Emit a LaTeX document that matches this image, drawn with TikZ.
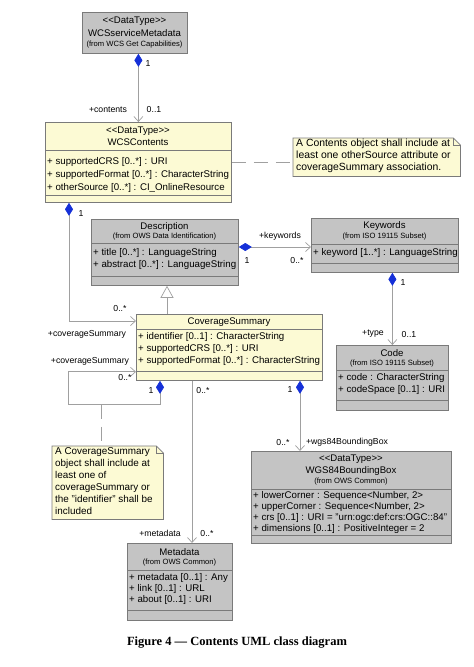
\documentclass[tikz,border=0pt]{standalone}
\usepackage{fontspec}
\setmainfont{Liberation Sans}
\newfontfamily\capfont{Liberation Serif}
\usetikzlibrary{arrows.meta,calc}
\definecolor{boxgray}{HTML}{C4C4C4}
\definecolor{boxyel}{HTML}{FCFAD4}
\definecolor{edgecol}{HTML}{7A7A7A}
\definecolor{conncol}{HTML}{A0A0A0}
\definecolor{diacol}{HTML}{1530D8}
\begin{document}
\begin{tikzpicture}[x=1pt,y=-1pt,
  graycls/.style={draw=edgecol, fill=boxgray, line width=0.8pt, anchor=north west, inner sep=0pt, rectangle},
  yelcls/.style={graycls, fill=boxyel},
  notebox/.style={draw=none, anchor=north west, inner sep=0pt, rectangle},
  sep/.style={draw=edgecol, line width=0.8pt},
  ttl/.style={font=\fontsize{9.6}{11}\selectfont, inner sep=0pt, anchor=center},
  subt/.style={font=\fontsize{7.6}{8}\selectfont, inner sep=0pt, anchor=center},
  attr/.style={font=\fontsize{9.7}{11}\selectfont, inner sep=0pt, anchor=west},
  lbl/.style={font=\fontsize{8.7}{10}\selectfont, inner sep=0pt, anchor=center},
  notetxt/.style={inner sep=0pt, anchor=north west, align=left},
  assoc/.style={draw=conncol, line width=0.7pt, arrows={-Straight Barb[length=5pt,width=9pt]}},
  comp/.style={draw=conncol, line width=0.7pt, arrows={Diamond[length=13pt,width=8pt,color=diacol,fill=diacol]-Straight Barb[length=5pt,width=9pt]}},
  gen/.style={draw=conncol, line width=0.7pt, arrows={-Triangle[length=12pt,width=13pt,fill=white,color=conncol]}},
  notelink/.style={draw=conncol, line width=0.7pt, dash pattern=on 14pt off 8pt},
]
\fill[white] (0,0) rectangle (474,667);
\useasboundingbox (0,0) rectangle (474,667);

% ---------- WCSserviceMetadata ----------
\node[graycls, minimum width=105pt, minimum height=41pt] (svc) at (82,12) {};
\node[ttl] (svc-a) at (134.5,21) {<\kern0pt<DataType>\kern0pt>};
\node[ttl] (svc-b) at (134.5,33) {WCSserviceMetadata};
\node[subt] (svc-c) at (134.5,45) {(from WCS Get Capabilities)};

% ---------- WCSContents ----------
\node[yelcls, minimum width=186pt, minimum height=80pt] (wcs) at (45,122) {};
\node[ttl] (wcs-a) at (138,131) {<\kern0pt<DataType>\kern0pt>};
\node[ttl] (wcs-b) at (138,142) {WCSContents};
\draw[sep] ($(wcs.north west)+(0,28)$) -- ($(wcs.north east)+(0,28)$);
\node[attr] (wcs-1) at (47,162) {+ supportedCRS [0..*] : URI};
\node[attr] (wcs-2) at (47,175) {+ supportedFormat [0..*] : CharacterString};
\node[attr] (wcs-3) at (47,188) {+ otherSource [0..*] : CI\_OnlineResource};
\draw[sep] ($(wcs.north west)+(0,73)$) -- ($(wcs.north east)+(0,73)$);

% ---------- Note 1 ----------
\node[notebox, minimum width=167pt, minimum height=38pt] (n1) at (293,138) {};
\draw[edgecol, fill=boxyel, line width=0.7pt] (n1.north west) -- ($(n1.north east)+(-7,0)$) -- ($(n1.north east)+(0,7)$) -- (n1.south east) -- (n1.south west) -- cycle;
\draw[edgecol, line width=0.6pt] ($(n1.north east)+(-7,0)$) -- ($(n1.north east)+(-7,7)$) -- ($(n1.north east)+(0,7)$);
\node[notetxt, font=\fontsize{10.4}{12}\selectfont] (n1-t) at (296,139) {A Contents object shall include at\\least one otherSource attribute or\\coverageSummary association.};

% ---------- Description ----------
\node[graycls, minimum width=147pt, minimum height=66pt] (desc) at (91,219) {};
\node[ttl] (desc-a) at (164.5,227) {Description};
\node[subt] (desc-b) at (164.5,237) {(from OWS Data Identification)};
\draw[sep] ($(desc.north west)+(0,24)$) -- ($(desc.north east)+(0,24)$);
\node[attr] (desc-1) at (93,253) {+ title [0..*] : LanguageString};
\node[attr] (desc-2) at (93,265) {+ abstract [0..*] : LanguageString};
\draw[sep] ($(desc.north west)+(0,57)$) -- ($(desc.north east)+(0,57)$);

% ---------- Keywords ----------
\node[graycls, minimum width=147pt, minimum height=54pt] (kw) at (311,218) {};
\node[ttl] (kw-a) at (384.5,226) {Keywords};
\node[subt] (kw-b) at (384.5,237) {(from ISO 19115 Subset)};
\draw[sep] ($(kw.north west)+(0,26)$) -- ($(kw.north east)+(0,26)$);
\node[attr] (kw-1) at (313,253) {+ keyword [1..*] : LanguageString};
\draw[sep] ($(kw.north west)+(0,45)$) -- ($(kw.north east)+(0,45)$);

% ---------- Code ----------
\node[graycls, minimum width=112pt, minimum height=65pt] (code) at (336,345) {};
\node[ttl] (code-a) at (392,353) {Code};
\node[subt] (code-b) at (392,364) {(from ISO 19115 Subset)};
\draw[sep] ($(code.north west)+(0,25)$) -- ($(code.north east)+(0,25)$);
\node[attr] (code-1) at (338,378) {+ code : CharacterString};
\node[attr] (code-2) at (338,390) {+ codeSpace [0..1] : URI};
\draw[sep] ($(code.north west)+(0,55)$) -- ($(code.north east)+(0,55)$);

% ---------- CoverageSummary ----------
\node[yelcls, minimum width=186pt, minimum height=66pt] (cs) at (136,314) {};
\node[ttl] (cs-a) at (229,322) {CoverageSummary};
\draw[sep] ($(cs.north west)+(0,15)$) -- ($(cs.north east)+(0,15)$);
\node[attr] (cs-1) at (138,337) {+ identifier [0..1] : CharacterString};
\node[attr] (cs-2) at (138,349) {+ supportedCRS [0..*] : URI};
\node[attr] (cs-3) at (138,361) {+ supportedFormat [0..*] : CharacterString};
\draw[sep] ($(cs.north west)+(0,57)$) -- ($(cs.north east)+(0,57)$);

% ---------- Note 2 ----------
\node[notebox, minimum width=111pt, minimum height=73pt] (n2) at (52,446) {};
\draw[edgecol, fill=boxyel, line width=0.7pt] (n2.north west) -- ($(n2.north east)+(-7,0)$) -- ($(n2.north east)+(0,7)$) -- (n2.south east) -- (n2.south west) -- cycle;
\draw[edgecol, line width=0.6pt] ($(n2.north east)+(-7,0)$) -- ($(n2.north east)+(-7,7)$) -- ($(n2.north east)+(0,7)$);
\node[notetxt, font=\fontsize{9.9}{12}\selectfont] (n2-t) at (55,447) {A CoverageSummary\\object shall include at\\least one of\\coverageSummary or\\the "identifier" shall be\\included};

% ---------- WGS84BoundingBox ----------
\node[graycls, minimum width=200pt, minimum height=92pt] (wgs) at (251,451) {};
\node[ttl] (wgs-a) at (351,459) {<\kern0pt<DataType>\kern0pt>};
\node[ttl] (wgs-b) at (351,471) {WGS84BoundingBox};
\node[subt] (wgs-c) at (351,482) {(from OWS Common)};
\draw[sep] ($(wgs.north west)+(0,38)$) -- ($(wgs.north east)+(0,38)$);
\node[attr] (wgs-1) at (253,496) {+ lowerCorner : Sequence<Number, 2>};
\node[attr] (wgs-2) at (253,507) {+ upperCorner : Sequence<Number, 2>};
\node[attr] (wgs-3) at (253,518) {+ crs [0..1] : URI = "urn:ogc:def:crs:OGC::84"};
\node[attr] (wgs-4) at (253,529) {+ dimensions [0..1] : PositiveInteger = 2};
\draw[sep] ($(wgs.north west)+(0,84)$) -- ($(wgs.north east)+(0,84)$);

% ---------- Metadata ----------
\node[graycls, minimum width=105pt, minimum height=77pt] (meta) at (127,543) {};
\node[ttl] (meta-a) at (179.5,552) {Metadata};
\node[subt] (meta-b) at (179.5,563) {(from OWS Common)};
\draw[sep] ($(meta.north west)+(0,27)$) -- ($(meta.north east)+(0,27)$);
\node[attr] (meta-1) at (129,578) {+ metadata [0..1] : Any};
\node[attr] (meta-2) at (129,589) {+ link [0..1] : URL};
\node[attr] (meta-3) at (129,600) {+ about [0..1] : URI};
\draw[sep] ($(meta.north west)+(0,67)$) -- ($(meta.north east)+(0,67)$);

% ---------- Connectors ----------
\draw[comp] (wcs.north |- svc.south) -- (wcs.north);
\node[lbl] (l1) at (148,64) {1};
\node[lbl] (l2) at (108,110) {+contents};
\node[lbl] (l3) at (154,110) {0..1};

\draw[notelink] (wcs.east) -- (wcs.east -| n1.west);

\draw[comp] ($(wcs.south west)+(24,0)$) |- ($(cs.north west)+(0,7)$);
\node[lbl] (l4) at (81,214) {1};
\node[lbl] (l5) at (120,309) {0..*};
\node[lbl] (l6) at (87,334) {+coverageSummary};

\draw[gen] ($(cs.north west)+(31,0)$) coordinate (g1) -- (g1 |- desc.south);

\draw[comp] ($(desc.north east)+(0,28)$) -- ($(kw.north west)+(0,29)$);
\node[lbl] (l7) at (280,236) {+keywords};
\node[lbl] (l8) at (247,261) {1};
\node[lbl] (l9) at (297,261) {0..*};

\draw[comp] (code.north |- kw.south) -- (code.north);
\node[lbl] (l10) at (403,283) {1};
\node[lbl] (l11) at (373,334) {+type};
\node[lbl] (l12) at (409,334) {0..1};

\draw[comp] ($(cs.south west)+(24,0)$) -- ++(0,24) -| ++(-92,-33) -- ($(cs.south west)+(0,-9)$);
\coordinate (loopb) at ($(cs.south west)+(-35,24)$);
\draw[notelink] (loopb) -- (loopb |- n2.north);
\node[lbl] (l13) at (90,361) {+coverageSummary};
\node[lbl] (l14) at (125,377) {0..*};
\node[lbl] (l15) at (151,391) {1};

\draw[assoc] ($(cs.south west)+(56,0)$) coordinate (m1) -- (m1 |- meta.north);
\node[lbl] (l16) at (203,390) {0..*};
\node[lbl] (l17) at (160,533) {+metadata};
\node[lbl] (l18) at (207,533) {0..*};

\draw[comp] ($(cs.south west)+(164,0)$) coordinate (w1) -- (w1 |- wgs.north);
\node[lbl] (l19) at (290,390) {1};
\node[lbl] (l20) at (283,442) {0..*};
\node[lbl] (l21) at (347,442) {+wgs84BoundingBox};

% ---------- Caption ----------
\node[font=\capfont\bfseries\fontsize{12.5}{14}\selectfont, inner sep=0pt] (cap) at (237,643) {Figure 4 — Contents UML class diagram};
\end{tikzpicture}
\end{document}
